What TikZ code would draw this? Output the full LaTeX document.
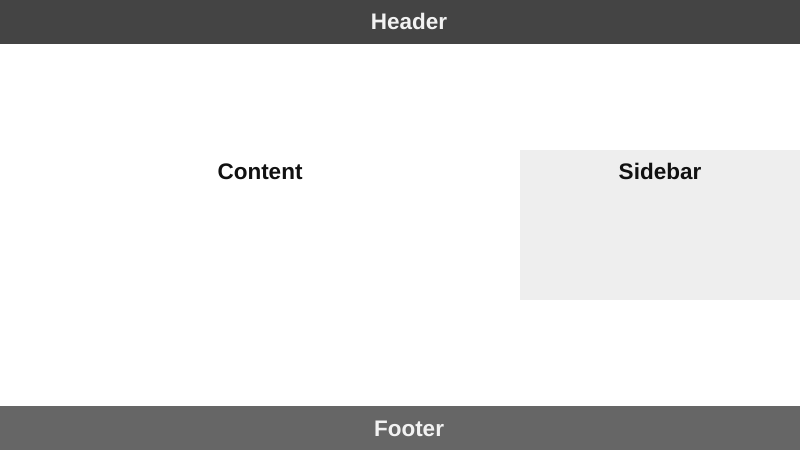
\documentclass[tikz,border=0pt]{standalone}
\usepackage{fontspec}
\setmainfont{Liberation Sans}
\definecolor{hdr}{HTML}{444444}
\definecolor{ftr}{HTML}{666666}
\definecolor{side}{HTML}{EEEEEE}
\definecolor{lighttxt}{HTML}{F2F2F2}
\definecolor{darktxt}{HTML}{111111}
\begin{document}
\begin{tikzpicture}[x=1pt,y=-1pt,
  lbl/.style={font=\fontsize{22.5}{27}\selectfont\bfseries, inner sep=0pt, anchor=center},
  barlbl/.style={lbl, text=lighttxt},
  bodylbl/.style={lbl, text=darktxt}]
\useasboundingbox (0,0) rectangle (800,450);
\fill[white] (0,0) rectangle (800,450);
\fill[hdr] (0,0) rectangle (800,43.5);
\fill[ftr] (0,406) rectangle (800,450);
\fill[side] (520,150) rectangle (800,299.5);
\node[barlbl] (header) at (409,21.5) {Header};
\node[bodylbl] (content) at (260,171.5) {Content};
\node[bodylbl] (sidebar) at (660,171.5) {Sidebar};
\node[barlbl] (footer) at (409,428.5) {Footer};
\end{tikzpicture}
\end{document}
